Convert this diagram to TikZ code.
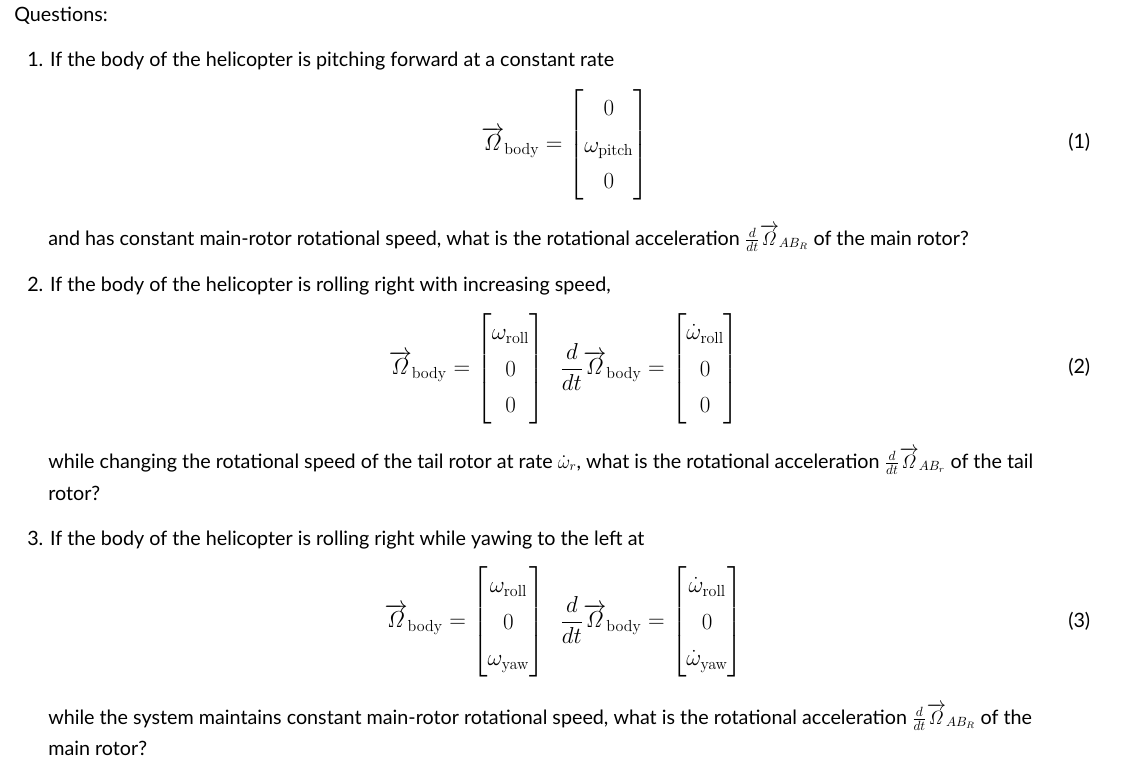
\documentclass[tikz,border=0pt]{standalone}
\usepackage{amsmath}
\usepackage[no-math]{fontspec}
\setmainfont{Lato}
\begin{document}
\begin{tikzpicture}[x=0.75pt,y=-0.75pt,
  txt/.style={anchor=base west,inner sep=0pt,font=\fontsize{14.8}{17}\selectfont},
  eq/.style={anchor=center,inner sep=0pt,font=\fontsize{17.5}{21}\selectfont}]
\useasboundingbox (0,0) rectangle (1123,777);
\newcommand{\Om}{\overrightarrow{\mathit{\Omega}}}
\renewcommand{\arraystretch}{1.3}
\node[txt] (q) at (14,22) {Questions:};
\node[txt] (a1) at (27,67) {1. If the body of the helicopter is pitching forward at a constant rate};
\node[eq] (e1) at (565,145) {$\Om_{\mathrm{body}} = \begin{bmatrix}0\\ \omega_{\mathrm{pitch}}\\ 0\end{bmatrix}$};
\node[txt] (n1) at (1068,149) {(1)};
\node[txt] (b1) at (48,245) {and has constant main-rotor rotational speed, what is the rotational acceleration $\frac{d}{dt}\Om_{AB_R}$ of the main rotor?};
\node[txt] (a2) at (27,291) {2. If the body of the helicopter is rolling right with increasing speed,};
\node[eq] (e2) at (564,369) {$\Om_{\mathrm{body}} = \begin{bmatrix}\omega_{\mathrm{roll}}\\ 0\\ 0\end{bmatrix}\ \ \dfrac{d}{dt}\Om_{\mathrm{body}} = \begin{bmatrix}\dot\omega_{\mathrm{roll}}\\ 0\\ 0\end{bmatrix}$};
\node[txt] (n2) at (1068,373) {(2)};
\node[txt] (b2) at (48,468) {while changing the rotational speed of the tail rotor at rate $\dot\omega_r$, what is the rotational acceleration $\frac{d}{dt}\Om_{AB_r}$ of the tail};
\node[txt] (c2) at (48,500) {rotor?};
\node[txt] (a3) at (27,545) {3. If the body of the helicopter is rolling right while yawing to the left at};
\node[eq] (e3) at (564,622) {$\Om_{\mathrm{body}} = \begin{bmatrix}\omega_{\mathrm{roll}}\\ 0\\ \omega_{\mathrm{yaw}}\end{bmatrix}\ \ \dfrac{d}{dt}\Om_{\mathrm{body}} = \begin{bmatrix}\dot\omega_{\mathrm{roll}}\\ 0\\ \dot\omega_{\mathrm{yaw}}\end{bmatrix}$};
\node[txt] (n3) at (1068,627) {(3)};
\node[txt] (b3) at (48,724) {while the system maintains constant main-rotor rotational speed, what is the rotational acceleration $\frac{d}{dt}\Om_{AB_R}$ of the};
\node[txt] (c3) at (48,755) {main rotor?};
\end{tikzpicture}
\end{document}
